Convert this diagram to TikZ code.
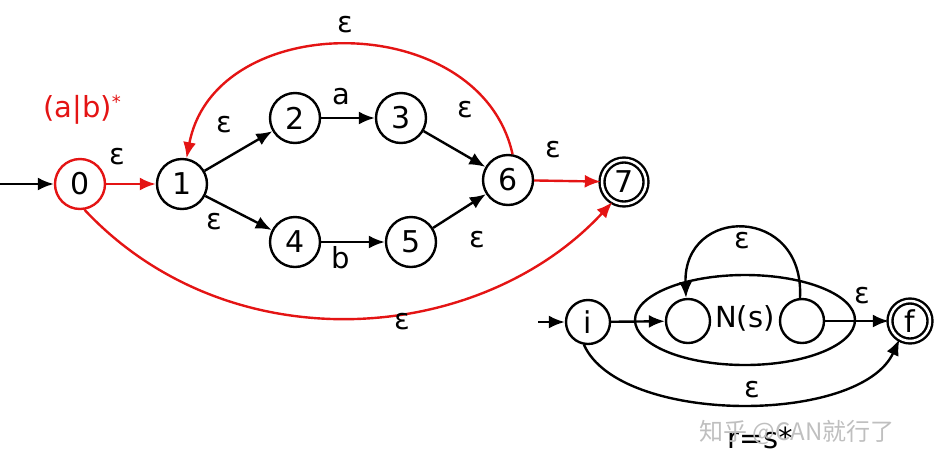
\documentclass[tikz,border=0pt]{standalone}
\usepackage{fontspec}
\setmainfont{DejaVu Sans}
\newfontfamily\cjk{Noto Sans CJK SC}
\usetikzlibrary{arrows.meta}
\definecolor{rd}{RGB}{228,20,20}
\tikzset{x=1pt,y=-1pt,
 st/.style={circle,draw,line width=2.4pt,minimum size=50pt,inner sep=0pt,font=\fontsize{30}{30}\selectfont},
 sm/.style={circle,draw,line width=2.4pt,minimum size=44pt,inner sep=0pt,font=\fontsize{30}{30}\selectfont},
 lb/.style={font=\fontsize{29}{29}\selectfont},
 ed/.style={line width=2.4pt,-{Latex[length=16pt,width=13pt]}},
 red/.style={ed,rd}}
\begin{document}
\begin{tikzpicture}
\useasboundingbox (0,0) rectangle (936,472);
\node[st,rd,text=black] (n0) at (80,184) {0};
\node[st] (n1) at (182,184) {1};
\node[st] (n2) at (295,118) {2};
\node[st] (n3) at (401,118) {3};
\node[st] (n4) at (295,242) {4};
\node[st] (n5) at (411,242) {5};
\node[st] (n6) at (508,180) {6};
\node[st,double,double distance=2.5pt,minimum size=44pt] (n7) at (624,182) {7};
\coordinate (s0) at (0,184);
\draw[ed] (s0) -- (n0);
\draw[red] (n0) -- (n1);
\draw[ed] (n1) -- (n2);
\draw[ed] (n1) -- (n4);
\draw[ed] (n2) -- (n3);
\draw[ed] (n4) -- (n5);
\draw[ed] (n3) -- (n6);
\draw[ed] (n5) -- (n6);
\draw[red] (n6) -- (n7);
\draw[red] (n6.80) .. controls (480,8) and (215,8) .. (n1.80);
\draw[red] (n0.-80) .. controls (230,365) and (480,345) .. (n7.-120);
\node[lb,text=rd] (re) at (82,110) {(a|b)\raisebox{9pt}{\fontsize{18}{18}\selectfont *}};
\node[lb] (l01) at (117,157) {ε};
\node[lb] (l12) at (224,125) {ε};
\node[lb] (l14) at (214,222) {ε};
\node[lb] (l23) at (341,97) {a};
\node[lb] (l45) at (341,258) {b};
\node[lb] (l36) at (465,110) {ε};
\node[lb] (l56) at (477,240) {ε};
\node[lb] (l67) at (553,150) {ε};
\node[lb] (ltop) at (345,25) {ε};
\node[lb] (lbot) at (402,322) {ε};
% right diagram
\draw[line width=2.4pt] (745,320) ellipse [x radius=110pt, y radius=45pt];
\node[sm] (ni) at (588,322) {i};
\node[sm] (na) at (688,321) {};
\node[sm] (nb) at (802,321) {};
\node[lb] (ns) at (745,318) {N(s)};
\node[sm,double,double distance=2.5pt,minimum size=40pt] (nf) at (910,321) {f};
\coordinate (si) at (538,322);
\draw[ed] (si) -- (ni);
\draw[ed] (ni) -- (na);
\draw[ed] (nb) -- (nf);
\draw[ed] (nb.95) .. controls (805,205) and (683,205) .. (na.95);
\draw[ed] (ni.-100) .. controls (620,425) and (860,425) .. (nf.-120);
\node[lb] (e1) at (742,241) {ε};
\node[lb] (e2) at (862,296) {ε};
\node[lb] (e3) at (752,390) {ε};
\node[lb] (rs) at (760,438) {r=s*};
\node[font=\cjk\fontsize{24}{24}\selectfont,text=black!25] (wm) at (797,432) {知乎 @CAN就行了};
\end{tikzpicture}
\end{document}
